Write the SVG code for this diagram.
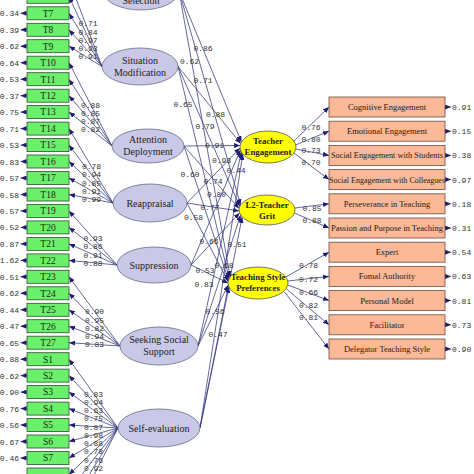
<svg xmlns="http://www.w3.org/2000/svg" width="474" height="474" viewBox="0 0 474 474">
<defs>
<marker id="ah" markerUnits="userSpaceOnUse" markerWidth="6" markerHeight="5" refX="6" refY="2.5" orient="auto"><path d="M0,0 L6,2.5 L0,5 z" fill="#1c1c70"/></marker>
<style>
.ind rect{fill:#6af06a;stroke:#2f4f2f;stroke-width:0.8}
.ind text{font-family:"Liberation Serif",serif;font-size:9.5px;fill:#1a2a1a;text-anchor:middle}
.lat ellipse{fill:#c9c9e7;stroke:#6a6a8a;stroke-width:0.8}
.lat text{font-family:"Liberation Serif",serif;font-size:10px;fill:#222;text-anchor:middle}
.endo ellipse{fill:#ffff00;stroke:#555;stroke-width:0.8}
.endo text{font-family:"Liberation Serif",serif;font-size:8.8px;font-weight:bold;fill:#222;text-anchor:middle}
.obs rect{fill:#fbb998;stroke:#6e4a3c;stroke-width:0.8}
.obs text{font-family:"Liberation Serif",serif;font-size:8.5px;fill:#2a1a10;text-anchor:middle}
.num{font-family:"Liberation Mono",monospace;font-size:8px;fill:#333}
.mid{text-anchor:middle}
.end{text-anchor:end}
.c line{stroke:#34347e;stroke-width:0.75;fill:none;marker-end:url(#ah)}
</style>
</defs>
<rect width="474" height="474" fill="#ffffff"/>

<g id="connectors" class="c">
<line x1="27" y1="13.3" x2="20.5" y2="13.3"/><line x1="27" y1="29.8" x2="20.5" y2="29.8"/><line x1="27" y1="46.2" x2="20.5" y2="46.2"/><line x1="27" y1="62.7" x2="20.5" y2="62.7"/><line x1="27" y1="79.2" x2="20.5" y2="79.2"/><line x1="27" y1="95.7" x2="20.5" y2="95.7"/><line x1="27" y1="112.1" x2="20.5" y2="112.1"/><line x1="27" y1="128.6" x2="20.5" y2="128.6"/><line x1="27" y1="145.1" x2="20.5" y2="145.1"/><line x1="27" y1="161.5" x2="20.5" y2="161.5"/><line x1="27" y1="178" x2="20.5" y2="178"/><line x1="27" y1="194.5" x2="20.5" y2="194.5"/><line x1="27" y1="210.9" x2="20.5" y2="210.9"/><line x1="27" y1="227.4" x2="20.5" y2="227.4"/><line x1="27" y1="243.9" x2="20.5" y2="243.9"/><line x1="27" y1="260.4" x2="20.5" y2="260.4"/><line x1="27" y1="276.8" x2="20.5" y2="276.8"/><line x1="27" y1="293.3" x2="20.5" y2="293.3"/><line x1="27" y1="309.8" x2="20.5" y2="309.8"/><line x1="27" y1="326.2" x2="20.5" y2="326.2"/><line x1="27" y1="342.7" x2="20.5" y2="342.7"/><line x1="27" y1="359.2" x2="20.5" y2="359.2"/><line x1="27" y1="375.6" x2="20.5" y2="375.6"/><line x1="27" y1="392.1" x2="20.5" y2="392.1"/><line x1="27" y1="408.6" x2="20.5" y2="408.6"/><line x1="27" y1="425" x2="20.5" y2="425"/><line x1="27" y1="441.5" x2="20.5" y2="441.5"/><line x1="27" y1="458" x2="20.5" y2="458"/>
<line x1="102" y1="66.5" x2="69" y2="-19.6"/><line x1="102" y1="66.5" x2="69" y2="-3.2"/><line x1="102" y1="66.5" x2="69" y2="13.3"/><line x1="102" y1="66.5" x2="69" y2="29.8"/><line x1="102" y1="66.5" x2="69" y2="46.2"/>
<line x1="112" y1="146" x2="69" y2="62.7"/><line x1="112" y1="146" x2="69" y2="79.2"/><line x1="112" y1="146" x2="69" y2="95.7"/><line x1="112" y1="146" x2="69" y2="112.1"/>
<line x1="113" y1="203" x2="69" y2="128.6"/><line x1="113" y1="203" x2="69" y2="145.1"/><line x1="113" y1="203" x2="69" y2="161.5"/><line x1="113" y1="203" x2="69" y2="178"/><line x1="113" y1="203" x2="69" y2="194.5"/>
<line x1="117" y1="265" x2="69" y2="210.9"/><line x1="117" y1="265" x2="69" y2="227.4"/><line x1="117" y1="265" x2="69" y2="243.9"/><line x1="117" y1="265" x2="69" y2="260.4"/>
<line x1="120" y1="346" x2="69" y2="276.8"/><line x1="120" y1="346" x2="69" y2="293.3"/><line x1="120" y1="346" x2="69" y2="309.8"/><line x1="120" y1="346" x2="69" y2="326.2"/><line x1="120" y1="346" x2="69" y2="342.7"/>
<line x1="118" y1="428" x2="69" y2="359.2"/><line x1="118" y1="428" x2="69" y2="375.6"/><line x1="118" y1="428" x2="69" y2="392.1"/><line x1="118" y1="428" x2="69" y2="408.6"/><line x1="118" y1="428" x2="69" y2="425"/><line x1="118" y1="428" x2="69" y2="441.5"/><line x1="118" y1="428" x2="69" y2="458"/><line x1="118" y1="428" x2="69" y2="474.5"/><line x1="118" y1="428" x2="69" y2="491"/><line x1="118" y1="428" x2="69" y2="507.4"/><line x1="118" y1="428" x2="69" y2="523.9"/>
<line x1="179" y1="-9" x2="241.4" y2="142"/><line x1="179" y1="-9" x2="240.6" y2="205"/><line x1="179" y1="-9" x2="230.2" y2="277"/>
<line x1="178" y1="66.5" x2="240.7" y2="143.5"/><line x1="178" y1="66.5" x2="239.8" y2="206.5"/><line x1="178" y1="66.5" x2="229.2" y2="278.5"/>
<line x1="184" y1="146" x2="240.1" y2="145.5"/><line x1="184" y1="146" x2="239.1" y2="208.5"/><line x1="184" y1="146" x2="228.5" y2="280"/>
<line x1="187" y1="203" x2="240.1" y2="148"/><line x1="187" y1="203" x2="239.1" y2="211"/><line x1="187" y1="203" x2="228.1" y2="281.5"/>
<line x1="191" y1="265" x2="240.5" y2="150"/><line x1="191" y1="265" x2="239.6" y2="213"/><line x1="191" y1="265" x2="228" y2="283"/>
<line x1="198" y1="346" x2="241.4" y2="152"/><line x1="198" y1="346" x2="240.6" y2="215"/><line x1="198" y1="346" x2="228.2" y2="285"/>
<line x1="200" y1="428" x2="242.8" y2="154"/><line x1="200" y1="428" x2="242.2" y2="217"/><line x1="200" y1="428" x2="229" y2="287"/>
<line x1="294" y1="141" x2="329" y2="107"/><line x1="295.5" y1="145" x2="329" y2="131.2"/><line x1="295.5" y1="149" x2="329" y2="155.4"/><line x1="294" y1="153" x2="329" y2="179.6"/>
<line x1="295" y1="208" x2="329" y2="203.8"/><line x1="294.5" y1="213" x2="329" y2="228"/>
<line x1="286" y1="277" x2="329" y2="252.2"/><line x1="287.8" y1="281" x2="329" y2="276.4"/><line x1="287.8" y1="285" x2="329" y2="300.6"/><line x1="286.5" y1="289" x2="329" y2="324.8"/><line x1="284.5" y1="292" x2="329" y2="349"/>
<line x1="445" y1="107" x2="451" y2="107"/><line x1="445" y1="131.2" x2="451" y2="131.2"/><line x1="445" y1="155.4" x2="451" y2="155.4"/><line x1="445" y1="179.6" x2="451" y2="179.6"/><line x1="445" y1="203.8" x2="451" y2="203.8"/><line x1="445" y1="228" x2="451" y2="228"/><line x1="445" y1="252.2" x2="451" y2="252.2"/><line x1="445" y1="276.4" x2="451" y2="276.4"/><line x1="445" y1="300.6" x2="451" y2="300.6"/><line x1="445" y1="324.8" x2="451" y2="324.8"/><line x1="445" y1="349" x2="451" y2="349"/>
</g>

<g id="labels" class="num">
<g class="end">
<text x="19" y="16.3">0.34</text><text x="19" y="32.8">0.39</text><text x="19" y="49.2">0.62</text><text x="19" y="65.7">0.64</text><text x="19" y="82.2">0.53</text><text x="19" y="98.7">0.37</text><text x="19" y="115.1">0.75</text><text x="19" y="131.6">0.71</text><text x="19" y="148.1">0.53</text><text x="19" y="164.5">0.83</text><text x="19" y="181">0.57</text><text x="19" y="197.5">0.58</text><text x="19" y="213.9">0.57</text><text x="19" y="230.4">0.52</text><text x="19" y="246.9">0.87</text><text x="19" y="263.4">1.62</text><text x="19" y="279.8">0.51</text><text x="19" y="296.3">0.62</text><text x="19" y="312.8">0.44</text><text x="19" y="329.2">0.47</text><text x="19" y="345.7">0.65</text><text x="19" y="362.2">0.88</text><text x="19" y="378.6">0.62</text><text x="19" y="395.1">0.90</text><text x="19" y="411.6">0.76</text><text x="19" y="428">0.56</text><text x="19" y="444.5">0.67</text><text x="19" y="461">0.46</text>
</g>
<g class="mid">
<text x="88" y="26">0.71</text><text x="88" y="34.7">0.84</text><text x="88" y="42.9">0.97</text><text x="88" y="51.1">0.93</text><text x="88" y="59.3">0.91</text>
<text x="90.5" y="107.5">0.88</text><text x="90.5" y="115.8">0.85</text><text x="90.5" y="124">0.87</text><text x="90.5" y="132.2">0.82</text>
<text x="91.5" y="169">0.78</text><text x="91.5" y="177.2">0.94</text><text x="91.5" y="185.5">0.85</text><text x="91.5" y="193.7">0.91</text><text x="91.5" y="202">0.99</text>
<text x="93" y="241">0.93</text><text x="93" y="249.2">0.86</text><text x="93" y="257.5">0.91</text><text x="93" y="265.7">0.88</text>
<text x="94.5" y="314.4">0.90</text><text x="94.5" y="322.7">0.95</text><text x="94.5" y="330.9">0.82</text><text x="94.5" y="339.1">0.94</text><text x="94.5" y="347.4">0.83</text>
<text x="93.5" y="396.6">0.83</text><text x="93.5" y="404.8">0.94</text><text x="93.5" y="413">0.63</text><text x="93.5" y="421.3">0.75</text><text x="93.5" y="429.5">0.87</text><text x="93.5" y="437.8">0.98</text><text x="93.5" y="446">0.88</text><text x="93.5" y="454.3">0.78</text><text x="93.5" y="462.5">0.76</text><text x="93.5" y="470.7">0.92</text>
<text x="203" y="51">0.86</text><text x="189.5" y="64">0.62</text><text x="203" y="83">0.71</text><text x="183" y="107">0.65</text><text x="215.5" y="117">0.88</text><text x="205" y="129">0.79</text><text x="214.5" y="148">0.91</text><text x="221.5" y="163">0.93</text><text x="236" y="173">0.44</text><text x="190" y="177">0.60</text><text x="213" y="184">0.74</text><text x="216.5" y="197">0.80</text><text x="210" y="210">0.77</text><text x="193.5" y="220">0.58</text><text x="209" y="244">0.66</text><text x="237" y="247">0.51</text><text x="224" y="268">0.68</text><text x="205" y="273">0.53</text><text x="204" y="287">0.83</text><text x="215" y="314">0.56</text><text x="218" y="337">0.47</text>
<text x="311" y="130">0.76</text><text x="311" y="142">0.80</text><text x="311" y="153">0.73</text><text x="311" y="165">0.70</text>
<text x="312" y="211">0.85</text><text x="312" y="223">0.88</text>
<text x="308.5" y="268">0.78</text><text x="308.5" y="282">0.72</text><text x="308.5" y="295">0.66</text><text x="308.5" y="308">0.82</text><text x="308.5" y="320">0.81</text>
</g>
<text x="452" y="110">0.91</text><text x="452" y="134.2">0.15</text><text x="452" y="158.4">0.38</text><text x="452" y="182.6">0.97</text><text x="452" y="206.8">0.18</text><text x="452" y="231">0.31</text><text x="452" y="255.2">0.54</text><text x="452" y="279.4">0.63</text><text x="452" y="303.6">0.81</text><text x="452" y="327.8">0.73</text><text x="452" y="352">0.90</text>
</g>

<g id="T6" class="ind"><rect x="27" y="-9.7" width="42" height="13"/></g>
<g id="T7" class="ind"><rect x="27" y="6.8" width="42" height="13"/><text x="48" y="16.6">T7</text></g>
<g id="T8" class="ind"><rect x="27" y="23.3" width="42" height="13"/><text x="48" y="33.1">T8</text></g>
<g id="T9" class="ind"><rect x="27" y="39.7" width="42" height="13"/><text x="48" y="49.5">T9</text></g>
<g id="T10" class="ind"><rect x="27" y="56.2" width="42" height="13"/><text x="48" y="66">T10</text></g>
<g id="T11" class="ind"><rect x="27" y="72.7" width="42" height="13"/><text x="48" y="82.5">T11</text></g>
<g id="T12" class="ind"><rect x="27" y="89.2" width="42" height="13"/><text x="48" y="99">T12</text></g>
<g id="T13" class="ind"><rect x="27" y="105.6" width="42" height="13"/><text x="48" y="115.4">T13</text></g>
<g id="T14" class="ind"><rect x="27" y="122.1" width="42" height="13"/><text x="48" y="131.9">T14</text></g>
<g id="T15" class="ind"><rect x="27" y="138.6" width="42" height="13"/><text x="48" y="148.4">T15</text></g>
<g id="T16" class="ind"><rect x="27" y="155" width="42" height="13"/><text x="48" y="164.8">T16</text></g>
<g id="T17" class="ind"><rect x="27" y="171.5" width="42" height="13"/><text x="48" y="181.3">T17</text></g>
<g id="T18" class="ind"><rect x="27" y="188" width="42" height="13"/><text x="48" y="197.8">T18</text></g>
<g id="T19" class="ind"><rect x="27" y="204.4" width="42" height="13"/><text x="48" y="214.2">T19</text></g>
<g id="T20" class="ind"><rect x="27" y="220.9" width="42" height="13"/><text x="48" y="230.7">T20</text></g>
<g id="T21" class="ind"><rect x="27" y="237.4" width="42" height="13"/><text x="48" y="247.2">T21</text></g>
<g id="T22" class="ind"><rect x="27" y="253.9" width="42" height="13"/><text x="48" y="263.7">T22</text></g>
<g id="T23" class="ind"><rect x="27" y="270.3" width="42" height="13"/><text x="48" y="280.1">T23</text></g>
<g id="T24" class="ind"><rect x="27" y="286.8" width="42" height="13"/><text x="48" y="296.6">T24</text></g>
<g id="T25" class="ind"><rect x="27" y="303.3" width="42" height="13"/><text x="48" y="313.1">T25</text></g>
<g id="T26" class="ind"><rect x="27" y="319.7" width="42" height="13"/><text x="48" y="329.5">T26</text></g>
<g id="T27" class="ind"><rect x="27" y="336.2" width="42" height="13"/><text x="48" y="346">T27</text></g>
<g id="S1" class="ind"><rect x="27" y="352.7" width="42" height="13"/><text x="48" y="362.5">S1</text></g>
<g id="S2" class="ind"><rect x="27" y="369.1" width="42" height="13"/><text x="48" y="378.9">S2</text></g>
<g id="S3" class="ind"><rect x="27" y="385.6" width="42" height="13"/><text x="48" y="395.4">S3</text></g>
<g id="S4" class="ind"><rect x="27" y="402.1" width="42" height="13"/><text x="48" y="411.9">S4</text></g>
<g id="S5" class="ind"><rect x="27" y="418.5" width="42" height="13"/><text x="48" y="428.3">S5</text></g>
<g id="S6" class="ind"><rect x="27" y="435" width="42" height="13"/><text x="48" y="444.8">S6</text></g>
<g id="S7" class="ind"><rect x="27" y="451.5" width="42" height="13"/><text x="48" y="461.3">S7</text></g>
<g id="S8" class="ind"><rect x="27" y="468" width="42" height="13"/></g>

<g id="selection" class="lat"><ellipse cx="141" cy="-9" rx="38" ry="19"/><text x="141" y="4">Selection</text></g>
<g id="situation-modification" class="lat"><ellipse cx="140" cy="66.5" rx="38" ry="18.5"/><text x="140" y="63.5">Situation</text><text x="140" y="75.5">Modification</text></g>
<g id="attention-deployment" class="lat"><ellipse cx="148" cy="146" rx="36" ry="17"/><text x="148" y="143">Attention</text><text x="148" y="155">Deployment</text></g>
<g id="reappraisal" class="lat"><ellipse cx="150" cy="203" rx="37" ry="19"/><text x="150" y="206.5">Reappraisal</text></g>
<g id="suppression" class="lat"><ellipse cx="154" cy="265" rx="37" ry="18"/><text x="154" y="268.5">Suppression</text></g>
<g id="seeking-social-support" class="lat"><ellipse cx="159" cy="346" rx="39" ry="19"/><text x="159" y="343">Seeking Social</text><text x="159" y="355">Support</text></g>
<g id="self-evaluation" class="lat"><ellipse cx="159" cy="428" rx="41" ry="19"/><text x="159" y="431.5">Self-evaluation</text></g>

<g id="teacher-engagement" class="endo"><ellipse cx="268" cy="147" rx="28" ry="16"/><text x="268" y="144">Teacher</text><text x="268" y="154.5">Engagement</text></g>
<g id="l2-teacher-grit" class="endo"><ellipse cx="267" cy="210" rx="28" ry="15"/><text x="267" y="207.5">L2-Teacher</text><text x="267" y="218.5">Grit</text></g>
<g id="teaching-style-preferences" class="endo"><ellipse cx="258" cy="283" rx="30" ry="16"/><text x="258" y="280">Teaching Style</text><text x="258" y="290.5">Preferences</text></g>

<g id="cognitive" class="obs"><rect x="329" y="97" width="116" height="20"/><text x="387" y="110">Cognitive Engagement</text></g>
<g id="emotional" class="obs"><rect x="329" y="121.2" width="116" height="20"/><text x="387" y="134.2">Emotional Engagement</text></g>
<g id="social-students" class="obs"><rect x="329" y="145.4" width="116" height="20"/><text x="387" y="158.4" textLength="112" lengthAdjust="spacingAndGlyphs">Social Engagement with Students</text></g>
<g id="social-colleagues" class="obs"><rect x="329" y="169.6" width="116" height="20"/><text x="387" y="182.6" textLength="116" lengthAdjust="spacingAndGlyphs">Social Engagement with Colleagues</text></g>
<g id="perseverance" class="obs"><rect x="329" y="193.8" width="116" height="20"/><text x="387" y="206.8">Perseverance in Teaching</text></g>
<g id="passion" class="obs"><rect x="329" y="218" width="116" height="20"/><text x="387" y="231" textLength="112" lengthAdjust="spacingAndGlyphs">Passion and Purpose in Teaching</text></g>
<g id="expert" class="obs"><rect x="329" y="242.2" width="116" height="20"/><text x="387" y="255.2">Expert</text></g>
<g id="formal-authority" class="obs"><rect x="329" y="266.4" width="116" height="20"/><text x="387" y="279.4">Fomal Authority</text></g>
<g id="personal-model" class="obs"><rect x="329" y="290.6" width="116" height="20"/><text x="387" y="303.6">Personal Model</text></g>
<g id="facilitator" class="obs"><rect x="329" y="314.8" width="116" height="20"/><text x="387" y="327.8">Facilitator</text></g>
<g id="delegator" class="obs"><rect x="329" y="339" width="116" height="20"/><text x="387" y="352">Delegator Teaching Style</text></g>
</svg>
